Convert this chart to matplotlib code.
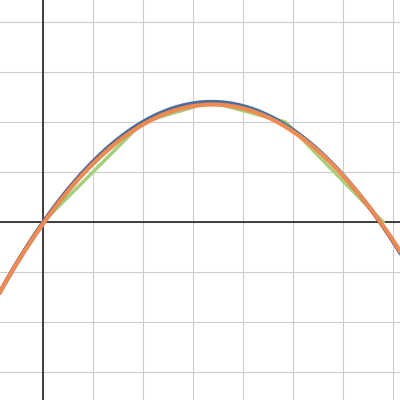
import numpy as np
import matplotlib
matplotlib.use("Agg")
import matplotlib.pyplot as plt

pts_x = [0, 2, 3.35, 4.85, 6.8]
pts_y = [0, 2, 2.4, 2.0, 0]
blue_coef = [-0.212, 1.43, -0.01]
orange_coef = [-0.208, 1.41, -0.04]

fig = plt.figure(figsize=(4, 4), dpi=100)
ax = fig.add_axes([0, 0, 1, 1])
xmin, xmax, ymin, ymax = -0.86, 7.14, -3.56, 4.44
ax.set_xlim(xmin, xmax); ax.set_ylim(ymin, ymax)
for g in np.arange(-3, 8):
    ax.axvline(g, color='#cccccc', lw=0.8, zorder=0)
for g in np.arange(-4, 5):
    ax.axhline(g, color='#cccccc', lw=0.8, zorder=0)
ax.axhline(0, color='#222222', lw=1.2, zorder=1)
ax.axvline(0, color='#222222', lw=1.2, zorder=1)
xs = np.linspace(xmin, xmax, 400)
ax.plot(pts_x, pts_y, color='#a8cf7a', lw=2.5, zorder=2)
ax.plot(xs, np.polyval(blue_coef, xs), color='#4a6f9c', lw=3, zorder=3)
ax.plot(xs, np.polyval(orange_coef, xs), color='#ee8a52', lw=3, zorder=4)
ax.axis('off')
fig.savefig('out.png', dpi=100)
